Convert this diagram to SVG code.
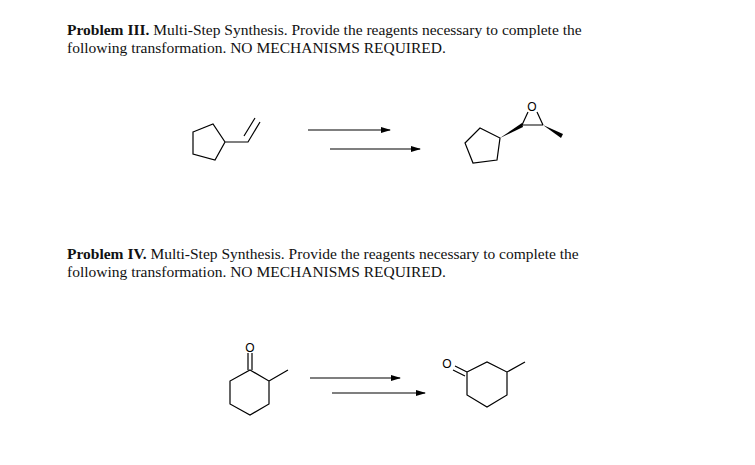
<svg xmlns="http://www.w3.org/2000/svg" width="755" height="465" viewBox="0 0 755 465">
<style>
.t{font-family:"Liberation Serif",serif;font-size:15.5px;fill:#111}
.b{stroke:#000;stroke-width:1.2;fill:none}
.a{stroke:#000;stroke-width:1.2}
.o{font-family:"Liberation Sans",sans-serif;font-size:12px;fill:#000}
</style>
<defs><marker id="ah" markerWidth="10" markerHeight="6" refX="9" refY="3" orient="auto" markerUnits="userSpaceOnUse"><path d="M0,0 L10,3 L0,6 Z" fill="#000"/></marker></defs>
<rect width="755" height="465" fill="#fff"/>
<g id="text3"><text class="t" x="67" y="35"><tspan font-weight="bold">Problem III.</tspan> Multi-Step Synthesis.  Provide the reagents necessary to complete the</text><text class="t" x="67" y="53">following transformation. NO MECHANISMS REQUIRED.</text></g>
<g id="text4"><text class="t" x="67" y="259"><tspan font-weight="bold">Problem IV.</tspan> Multi-Step Synthesis.  Provide the reagents necessary to complete the</text><text class="t" x="67" y="277">following transformation. NO MECHANISMS REQUIRED.</text></g>
<g id="sm3"><path class="b" d="M193,132 L213,124 L225,142 L215,160 L193,154 Z M225,142 L248,142 L260,122 M244,136 L255,118"/></g>
<g id="pr3"><path class="b" d="M465,143 L480,128 L500,138 L497,160 L473,163 Z M522,125 L543,125 M522,125 L528,112 M543,125 L537,112"/><polygon points="500,138 522,123 523,127" fill="#000"/><polygon points="543,125 563,134 561,138" fill="#000"/><text class="o" x="532" y="111" text-anchor="middle">O</text></g>
<g id="sm4"><path class="b" d="M250,370 L269,381 L269,404 L250,415 L230,404 L230,381 Z M269,381 L288,370 M248,370 L248,353 M252,370 L252,353"/><text class="o" x="250" y="352" text-anchor="middle">O</text></g>
<g id="pr4"><path class="b" d="M467,372 L487,362 L507,372 L507,395 L487,407 L467,395 Z M507,372 L525,362 M467,372 L455,366 M465,376 L453,370"/><text class="o" x="447" y="368" text-anchor="middle">O</text></g>
<g id="connectors"><line class="a" x1="308" y1="130" x2="390" y2="130" marker-end="url(#ah)"/><line class="a" x1="330" y1="149" x2="420" y2="149" marker-end="url(#ah)"/><line class="a" x1="310" y1="378" x2="400" y2="378" marker-end="url(#ah)"/><line class="a" x1="332" y1="393" x2="425" y2="393" marker-end="url(#ah)"/></g>
</svg>
